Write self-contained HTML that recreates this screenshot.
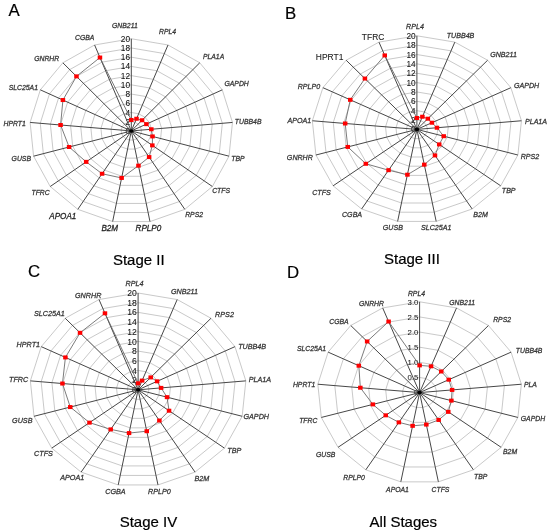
<!DOCTYPE html>
<html><head><meta charset="utf-8"><title>Radar charts</title>
<style>
html,body{margin:0;padding:0;background:#fff;}
body{width:550px;height:532px;overflow:hidden;}
svg{display:block;font-family:"Liberation Sans",Arial,sans-serif;}
</style></head><body>
<svg width="550" height="532" viewBox="0 0 550 532">
<g><polygon points="131.3,121.73 134.97,122.35 138.14,124.14 140.39,126.84 141.42,130.1 141.07,133.47 139.41,136.51 136.65,138.79 133.17,140.01 129.43,140.01 125.95,138.79 123.19,136.51 121.53,133.47 121.18,130.1 122.21,126.84 124.46,124.14 127.63,122.35" fill="none" stroke="#c6c6c6" stroke-width="0.95"/><polygon points="131.3,112.51 138.64,113.76 144.99,117.32 149.49,122.73 151.53,129.25 150.84,136 147.52,142.06 142,146.63 135.03,149.08 127.57,149.08 120.6,146.63 115.08,142.06 111.76,136 111.07,129.25 113.11,122.73 117.61,117.32 123.96,113.76" fill="none" stroke="#c6c6c6" stroke-width="0.95"/><polygon points="131.3,103.29 142.31,105.16 151.83,110.51 158.58,118.62 161.65,128.4 160.62,138.52 155.62,147.62 147.35,154.47 136.9,158.14 125.7,158.14 115.25,154.47 106.98,147.62 101.98,138.52 100.95,128.4 104.02,118.62 110.77,110.51 120.29,105.16" fill="none" stroke="#c6c6c6" stroke-width="0.95"/><polygon points="131.3,94.07 145.98,96.56 158.68,103.7 167.68,114.51 171.77,127.55 170.39,141.04 163.73,153.18 152.69,162.31 138.77,167.2 123.83,167.2 109.91,162.31 98.87,153.18 92.21,141.04 90.83,127.55 94.92,114.51 103.92,103.7 116.62,96.56" fill="none" stroke="#c6c6c6" stroke-width="0.95"/><polygon points="131.3,84.85 149.65,87.96 165.52,96.88 176.77,110.4 181.88,126.7 180.16,143.57 171.84,158.73 158.04,170.15 140.63,176.27 121.97,176.27 104.56,170.15 90.76,158.73 82.44,143.57 80.72,126.7 85.83,110.4 97.08,96.88 112.95,87.96" fill="none" stroke="#c6c6c6" stroke-width="0.95"/><polygon points="131.3,75.63 153.32,79.37 172.37,90.07 185.87,106.29 192,125.85 189.93,146.09 179.95,164.29 163.39,177.98 142.5,185.33 120.1,185.33 99.21,177.98 82.65,164.29 72.67,146.09 70.6,125.85 76.73,106.29 90.23,90.07 109.28,79.37" fill="none" stroke="#c6c6c6" stroke-width="0.95"/><polygon points="131.3,66.41 156.99,70.77 179.21,83.25 194.96,102.18 202.12,125 199.71,148.61 188.05,169.84 168.74,185.82 144.37,194.39 118.23,194.39 93.86,185.82 74.55,169.84 62.89,148.61 60.48,125 67.64,102.18 83.39,83.25 105.61,70.77" fill="none" stroke="#c6c6c6" stroke-width="0.95"/><polygon points="131.3,57.19 160.66,62.17 186.06,76.44 204.06,98.07 212.23,124.14 209.48,151.14 196.16,175.4 174.09,193.66 146.24,203.45 116.36,203.45 88.51,193.66 66.44,175.4 53.12,151.14 50.37,124.14 58.54,98.07 76.54,76.44 101.94,62.17" fill="none" stroke="#c6c6c6" stroke-width="0.95"/><polygon points="131.3,47.97 164.33,53.57 192.9,69.63 213.15,93.96 222.35,123.29 219.25,153.66 204.27,180.96 179.44,201.5 148.1,212.52 114.5,212.52 83.16,201.5 58.33,180.96 43.35,153.66 40.25,123.29 49.45,93.96 69.7,69.63 98.27,53.57" fill="none" stroke="#c6c6c6" stroke-width="0.95"/><polygon points="131.3,38.75 168,44.98 199.75,62.81 222.25,89.85 232.47,122.44 229.02,156.18 212.38,186.51 184.79,209.34 149.97,221.58 112.63,221.58 77.81,209.34 50.22,186.51 33.58,156.18 30.13,122.44 40.35,89.85 62.85,62.81 94.6,44.98" fill="none" stroke="#c6c6c6" stroke-width="0.95"/><text x="130.1" y="133.94" font-size="8.3" text-anchor="end" fill="#111" stroke="#111" stroke-width="0.06">0</text><text x="130.1" y="124.72" font-size="8.3" text-anchor="end" fill="#111" stroke="#111" stroke-width="0.06">2</text><text x="130.1" y="115.5" font-size="8.3" text-anchor="end" fill="#111" stroke="#111" stroke-width="0.06">4</text><text x="130.1" y="106.28" font-size="8.3" text-anchor="end" fill="#111" stroke="#111" stroke-width="0.06">6</text><text x="130.1" y="97.06" font-size="8.3" text-anchor="end" fill="#111" stroke="#111" stroke-width="0.06">8</text><text x="130.1" y="87.84" font-size="8.3" text-anchor="end" fill="#111" stroke="#111" stroke-width="0.06">10</text><text x="130.1" y="78.62" font-size="8.3" text-anchor="end" fill="#111" stroke="#111" stroke-width="0.06">12</text><text x="130.1" y="69.4" font-size="8.3" text-anchor="end" fill="#111" stroke="#111" stroke-width="0.06">14</text><text x="130.1" y="60.18" font-size="8.3" text-anchor="end" fill="#111" stroke="#111" stroke-width="0.06">16</text><text x="130.1" y="50.96" font-size="8.3" text-anchor="end" fill="#111" stroke="#111" stroke-width="0.06">18</text><text x="130.1" y="41.74" font-size="8.3" text-anchor="end" fill="#111" stroke="#111" stroke-width="0.06">20</text><path d="M131.3 130.95L131.3 38.75M131.3 130.95L168 44.98M131.3 130.95L199.75 62.81M131.3 130.95L222.25 89.85M131.3 130.95L232.47 122.44M131.3 130.95L229.02 156.18M131.3 130.95L212.38 186.51M131.3 130.95L184.79 209.34M131.3 130.95L149.97 221.58M131.3 130.95L112.63 221.58M131.3 130.95L77.81 209.34M131.3 130.95L50.22 186.51M131.3 130.95L33.58 156.18M131.3 130.95L30.13 122.44M131.3 130.95L40.35 89.85M131.3 130.95L62.85 62.81M131.3 130.95L94.6 44.98" stroke="#474747" stroke-width="1.0" fill="none"/><polygon points="131.3,119.98 136.51,118.74 142.05,120.25 146.4,124.13 151.33,129.27 152.51,136.43 152.34,145.37 149.14,157.09 138.45,165.66 121.62,177.94 102.1,173.75 86.18,161.87 69.1,147.01 60.58,125 62.91,100.04 76.47,76.37 99.96,57.53" fill="none" stroke="#6c6c6c" stroke-width="0.9"/><rect x="129.05" y="117.98" width="4.5" height="4" fill="#ff0000"/><rect x="134.26" y="116.74" width="4.5" height="4" fill="#ff0000"/><rect x="139.8" y="118.25" width="4.5" height="4" fill="#ff0000"/><rect x="144.15" y="122.13" width="4.5" height="4" fill="#ff0000"/><rect x="149.08" y="127.27" width="4.5" height="4" fill="#ff0000"/><rect x="150.26" y="134.43" width="4.5" height="4" fill="#ff0000"/><rect x="150.09" y="143.37" width="4.5" height="4" fill="#ff0000"/><rect x="146.89" y="155.09" width="4.5" height="4" fill="#ff0000"/><rect x="136.2" y="163.66" width="4.5" height="4" fill="#ff0000"/><rect x="119.37" y="175.94" width="4.5" height="4" fill="#ff0000"/><rect x="99.85" y="171.75" width="4.5" height="4" fill="#ff0000"/><rect x="83.93" y="159.87" width="4.5" height="4" fill="#ff0000"/><rect x="66.85" y="145.01" width="4.5" height="4" fill="#ff0000"/><rect x="58.33" y="123" width="4.5" height="4" fill="#ff0000"/><rect x="60.66" y="98.04" width="4.5" height="4" fill="#ff0000"/><rect x="74.22" y="74.37" width="4.5" height="4" fill="#ff0000"/><rect x="97.71" y="55.53" width="4.5" height="4" fill="#ff0000"/><ellipse cx="131.3" cy="130.95" rx="2.2" ry="1.8" fill="#000"/><text transform="translate(124.9 27.5) scale(1 1.08)" font-size="6.85" text-anchor="middle" fill="#333333" stroke="#333333" stroke-width="0.25" style="font-style:italic;">GNB211</text><text transform="translate(167.6 34) scale(1 1.08)" font-size="6.85" text-anchor="middle" fill="#333333" stroke="#333333" stroke-width="0.25" style="font-style:italic;">RPL4</text><text transform="translate(213.55 58.7) scale(1 1.08)" font-size="6.85" text-anchor="middle" fill="#333333" stroke="#333333" stroke-width="0.25" style="font-style:italic;">PLA1A</text><text transform="translate(236.6 85.6) scale(1 1.08)" font-size="6.85" text-anchor="middle" fill="#333333" stroke="#333333" stroke-width="0.25" style="font-style:italic;">GAPDH</text><text transform="translate(248.15 124.3) scale(1 1.08)" font-size="6.85" text-anchor="middle" fill="#333333" stroke="#333333" stroke-width="0.25" style="font-style:italic;">TUBB4B</text><text transform="translate(237.95 160.5) scale(1 1.08)" font-size="6.85" text-anchor="middle" fill="#333333" stroke="#333333" stroke-width="0.25" style="font-style:italic;">TBP</text><text transform="translate(221.05 193) scale(1 1.08)" font-size="6.85" text-anchor="middle" fill="#333333" stroke="#333333" stroke-width="0.25" style="font-style:italic;">CTFS</text><text transform="translate(194.1 216.8) scale(1 1.08)" font-size="6.85" text-anchor="middle" fill="#333333" stroke="#333333" stroke-width="0.25" style="font-style:italic;">RPS2</text><text transform="translate(148.4 231) scale(1 1.08)" font-size="8.1" text-anchor="middle" fill="#222222" stroke="#222222" stroke-width="0.25" style="font-style:italic;">RPLP0</text><text transform="translate(109.7 231) scale(1 1.08)" font-size="8.1" text-anchor="middle" fill="#222222" stroke="#222222" stroke-width="0.25" style="font-style:italic;">B2M</text><text transform="translate(62.8 218.9) scale(1 1.08)" font-size="8.1" text-anchor="middle" fill="#222222" stroke="#222222" stroke-width="0.25" style="font-style:italic;">APOA1</text><text transform="translate(40.6 195.1) scale(1 1.08)" font-size="6.85" text-anchor="middle" fill="#333333" stroke="#333333" stroke-width="0.25" style="font-style:italic;">TFRC</text><text transform="translate(21.28 160.9) scale(1 1.08)" font-size="6.85" text-anchor="middle" fill="#333333" stroke="#333333" stroke-width="0.25" style="font-style:italic;">GUSB</text><text transform="translate(14.7 125.6) scale(1 1.08)" font-size="6.85" text-anchor="middle" fill="#333333" stroke="#333333" stroke-width="0.25" style="font-style:italic;">HPRT1</text><text transform="translate(23.35 90.3) scale(1 1.08)" font-size="6.85" text-anchor="middle" fill="#333333" stroke="#333333" stroke-width="0.25" style="font-style:italic;">SLC25A1</text><text transform="translate(46.65 61.2) scale(1 1.08)" font-size="6.85" text-anchor="middle" fill="#333333" stroke="#333333" stroke-width="0.25" style="font-style:italic;">GNRHR</text><text transform="translate(84.65 40.1) scale(1 1.08)" font-size="6.85" text-anchor="middle" fill="#333333" stroke="#333333" stroke-width="0.25" style="font-style:italic;">CGBA</text></g>
<g><polygon points="416.9,120.04 420.69,120.67 423.97,122.48 426.3,125.23 427.36,128.54 427,131.96 425.28,135.04 422.43,137.36 418.83,138.6 414.97,138.6 411.37,137.36 408.52,135.04 406.8,131.96 406.44,128.54 407.5,125.23 409.83,122.48 413.11,120.67" fill="none" stroke="#c6c6c6" stroke-width="0.95"/><polygon points="416.9,110.68 424.49,111.94 431.05,115.57 435.7,121.06 437.81,127.67 437.1,134.52 433.66,140.68 427.96,145.32 420.76,147.8 413.04,147.8 405.84,145.32 400.14,140.68 396.7,134.52 395.99,127.67 398.1,121.06 402.75,115.57 409.31,111.94" fill="none" stroke="#c6c6c6" stroke-width="0.95"/><polygon points="416.9,101.32 428.28,103.22 438.12,108.65 445.1,116.88 448.27,126.81 447.2,137.08 442.04,146.32 433.48,153.27 422.69,157 411.11,157 400.32,153.27 391.76,146.32 386.6,137.08 385.53,126.81 388.7,116.88 395.68,108.65 405.52,103.22" fill="none" stroke="#c6c6c6" stroke-width="0.95"/><polygon points="416.9,91.96 432.07,94.49 445.2,101.73 454.5,112.71 458.72,125.95 457.3,139.65 450.42,151.96 439.01,161.23 424.62,166.2 409.18,166.2 394.79,161.23 383.38,151.96 376.5,139.65 375.08,125.95 379.3,112.71 388.6,101.73 401.73,94.49" fill="none" stroke="#c6c6c6" stroke-width="0.95"/><polygon points="416.9,82.6 435.87,85.76 452.27,94.81 463.9,108.54 469.18,125.08 467.4,142.21 458.8,157.6 444.54,169.19 426.55,175.4 407.25,175.4 389.26,169.19 375,157.6 366.4,142.21 364.62,125.08 369.9,108.54 381.53,94.81 397.93,85.76" fill="none" stroke="#c6c6c6" stroke-width="0.95"/><polygon points="416.9,73.24 439.66,77.03 459.34,87.9 473.3,104.37 479.63,124.22 477.5,144.77 467.18,163.24 450.07,177.15 428.48,184.6 405.32,184.6 383.73,177.15 366.62,163.24 356.3,144.77 354.17,124.22 360.5,104.37 374.46,87.9 394.14,77.03" fill="none" stroke="#c6c6c6" stroke-width="0.95"/><polygon points="416.9,63.88 443.45,68.3 466.42,80.98 482.69,100.2 490.09,123.35 487.59,147.33 475.55,168.88 455.59,185.11 430.41,193.8 403.39,193.8 378.21,185.11 358.25,168.88 346.21,147.33 343.71,123.35 351.11,100.2 367.38,80.98 390.35,68.3" fill="none" stroke="#c6c6c6" stroke-width="0.95"/><polygon points="416.9,54.52 447.24,59.58 473.49,74.06 492.09,96.02 500.54,122.49 497.69,149.89 483.93,174.53 461.12,193.06 432.33,203.01 401.47,203.01 372.68,193.06 349.87,174.53 336.11,149.89 333.26,122.49 341.71,96.02 360.31,74.06 386.56,59.58" fill="none" stroke="#c6c6c6" stroke-width="0.95"/><polygon points="416.9,45.16 451.04,50.85 480.56,67.15 501.49,91.85 511,121.63 507.79,152.45 492.31,180.17 466.65,201.02 434.26,212.21 399.54,212.21 367.15,201.02 341.49,180.17 326.01,152.45 322.8,121.63 332.31,91.85 353.24,67.15 382.76,50.85" fill="none" stroke="#c6c6c6" stroke-width="0.95"/><polygon points="416.9,35.8 454.83,42.12 487.64,60.23 510.89,87.68 521.45,120.76 517.89,155.01 500.69,185.81 472.18,208.98 436.19,221.41 397.61,221.41 361.62,208.98 333.11,185.81 315.91,155.01 312.35,120.76 322.91,87.68 346.16,60.23 378.97,42.12" fill="none" stroke="#c6c6c6" stroke-width="0.95"/><text x="415.7" y="132.39" font-size="8.3" text-anchor="end" fill="#111" stroke="#111" stroke-width="0.06">0</text><text x="415.7" y="123.03" font-size="8.3" text-anchor="end" fill="#111" stroke="#111" stroke-width="0.06">2</text><text x="415.7" y="113.67" font-size="8.3" text-anchor="end" fill="#111" stroke="#111" stroke-width="0.06">4</text><text x="415.7" y="104.31" font-size="8.3" text-anchor="end" fill="#111" stroke="#111" stroke-width="0.06">6</text><text x="415.7" y="94.95" font-size="8.3" text-anchor="end" fill="#111" stroke="#111" stroke-width="0.06">8</text><text x="415.7" y="85.59" font-size="8.3" text-anchor="end" fill="#111" stroke="#111" stroke-width="0.06">10</text><text x="415.7" y="76.23" font-size="8.3" text-anchor="end" fill="#111" stroke="#111" stroke-width="0.06">12</text><text x="415.7" y="66.87" font-size="8.3" text-anchor="end" fill="#111" stroke="#111" stroke-width="0.06">14</text><text x="415.7" y="57.51" font-size="8.3" text-anchor="end" fill="#111" stroke="#111" stroke-width="0.06">16</text><text x="415.7" y="48.15" font-size="8.3" text-anchor="end" fill="#111" stroke="#111" stroke-width="0.06">18</text><text x="415.7" y="38.79" font-size="8.3" text-anchor="end" fill="#111" stroke="#111" stroke-width="0.06">20</text><path d="M416.9 129.4L416.9 35.8M416.9 129.4L454.83 42.12M416.9 129.4L487.64 60.23M416.9 129.4L510.89 87.68M416.9 129.4L521.45 120.76M416.9 129.4L517.89 155.01M416.9 129.4L500.69 185.81M416.9 129.4L472.18 208.98M416.9 129.4L436.19 221.41M416.9 129.4L397.61 221.41M416.9 129.4L361.62 208.98M416.9 129.4L333.11 185.81M416.9 129.4L315.91 155.01M416.9 129.4L312.35 120.76M416.9 129.4L322.91 87.68M416.9 129.4L346.16 60.23M416.9 129.4L378.97 42.12" stroke="#474747" stroke-width="1.0" fill="none"/><polygon points="416.9,117.98 422.4,116.74 427.83,118.71 431.94,122.72 436.97,127.74 443.71,136.2 439.23,144.43 434.98,155.42 424.29,164.64 407.4,174.71 388.57,170.18 365.83,163.78 347.77,146.93 345.18,123.48 350.26,99.82 364.91,78.56 384.75,55.43" fill="none" stroke="#6c6c6c" stroke-width="0.9"/><rect x="414.65" y="115.98" width="4.5" height="4" fill="#ff0000"/><rect x="420.15" y="114.74" width="4.5" height="4" fill="#ff0000"/><rect x="425.58" y="116.71" width="4.5" height="4" fill="#ff0000"/><rect x="429.69" y="120.72" width="4.5" height="4" fill="#ff0000"/><rect x="434.72" y="125.74" width="4.5" height="4" fill="#ff0000"/><rect x="441.46" y="134.2" width="4.5" height="4" fill="#ff0000"/><rect x="436.98" y="142.43" width="4.5" height="4" fill="#ff0000"/><rect x="432.73" y="153.42" width="4.5" height="4" fill="#ff0000"/><rect x="422.04" y="162.64" width="4.5" height="4" fill="#ff0000"/><rect x="405.15" y="172.71" width="4.5" height="4" fill="#ff0000"/><rect x="386.32" y="168.18" width="4.5" height="4" fill="#ff0000"/><rect x="363.58" y="161.78" width="4.5" height="4" fill="#ff0000"/><rect x="345.52" y="144.93" width="4.5" height="4" fill="#ff0000"/><rect x="342.93" y="121.48" width="4.5" height="4" fill="#ff0000"/><rect x="348.01" y="97.82" width="4.5" height="4" fill="#ff0000"/><rect x="362.66" y="76.56" width="4.5" height="4" fill="#ff0000"/><rect x="382.5" y="53.43" width="4.5" height="4" fill="#ff0000"/><ellipse cx="416.9" cy="129.4" rx="2.2" ry="1.8" fill="#000"/><text transform="translate(414.95 28.6) scale(1 1.08)" font-size="7.1" text-anchor="middle" fill="#333333" stroke="#333333" stroke-width="0.25" style="font-style:italic;">RPL4</text><text transform="translate(460.55 37.9) scale(1 1.08)" font-size="7.1" text-anchor="middle" fill="#333333" stroke="#333333" stroke-width="0.25" style="font-style:italic;">TUBB4B</text><text transform="translate(503.55 56.65) scale(1 1.08)" font-size="7.1" text-anchor="middle" fill="#333333" stroke="#333333" stroke-width="0.25" style="font-style:italic;">GNB211</text><text transform="translate(526.6 88.3) scale(1 1.08)" font-size="7.1" text-anchor="middle" fill="#333333" stroke="#333333" stroke-width="0.25" style="font-style:italic;">GAPDH</text><text transform="translate(536 123.6) scale(1 1.08)" font-size="7.1" text-anchor="middle" fill="#333333" stroke="#333333" stroke-width="0.25" style="font-style:italic;">PLA1A</text><text transform="translate(529.9 159) scale(1 1.08)" font-size="7.1" text-anchor="middle" fill="#333333" stroke="#333333" stroke-width="0.25" style="font-style:italic;">RPS2</text><text transform="translate(508.7 193) scale(1 1.08)" font-size="7.1" text-anchor="middle" fill="#333333" stroke="#333333" stroke-width="0.25" style="font-style:italic;">TBP</text><text transform="translate(480.5 216.6) scale(1 1.08)" font-size="7.1" text-anchor="middle" fill="#333333" stroke="#333333" stroke-width="0.25" style="font-style:italic;">B2M</text><text transform="translate(436.25 230.4) scale(1 1.08)" font-size="7.1" text-anchor="middle" fill="#333333" stroke="#333333" stroke-width="0.25" style="font-style:italic;">SLC25A1</text><text transform="translate(392.85 229.5) scale(1 1.08)" font-size="7.1" text-anchor="middle" fill="#333333" stroke="#333333" stroke-width="0.25" style="font-style:italic;">GUSB</text><text transform="translate(352.05 217.4) scale(1 1.08)" font-size="7.1" text-anchor="middle" fill="#333333" stroke="#333333" stroke-width="0.25" style="font-style:italic;">CGBA</text><text transform="translate(321.5 195) scale(1 1.08)" font-size="7.1" text-anchor="middle" fill="#333333" stroke="#333333" stroke-width="0.25" style="font-style:italic;">CTFS</text><text transform="translate(299.85 160.3) scale(1 1.08)" font-size="7.1" text-anchor="middle" fill="#333333" stroke="#333333" stroke-width="0.25" style="font-style:italic;">GNRHR</text><text transform="translate(299.35 122.6) scale(1 1.08)" font-size="7.1" text-anchor="middle" fill="#333333" stroke="#333333" stroke-width="0.25" style="font-style:italic;">APOA1</text><text transform="translate(308.9 88.5) scale(1 1.08)" font-size="7.1" text-anchor="middle" fill="#333333" stroke="#333333" stroke-width="0.25" style="font-style:italic;">RPLP0</text><text transform="translate(329.6 60) scale(1 1.08)" font-size="8.45" text-anchor="middle" fill="#222222" stroke="#222222" stroke-width="0.1" style="">HPRT1</text><text transform="translate(373.1 40) scale(1 1.08)" font-size="8.45" text-anchor="middle" fill="#222222" stroke="#222222" stroke-width="0.1" style="">TFRC</text></g>
<g><polygon points="138.1,380.12 142.01,380.77 145.39,382.65 147.79,385.49 148.87,388.91 148.51,392.45 146.73,395.63 143.8,398.03 140.09,399.32 136.11,399.32 132.4,398.03 129.47,395.63 127.69,392.45 127.33,388.91 128.41,385.49 130.81,382.65 134.19,380.77" fill="none" stroke="#c6c6c6" stroke-width="0.95"/><polygon points="138.1,370.44 145.92,371.75 152.68,375.49 157.47,381.17 159.65,388.01 158.91,395.1 155.37,401.47 149.49,406.26 142.08,408.83 134.12,408.83 126.71,406.26 120.83,401.47 117.29,395.1 116.55,388.01 118.73,381.17 123.52,375.49 130.28,371.75" fill="none" stroke="#c6c6c6" stroke-width="0.95"/><polygon points="138.1,360.76 149.83,362.72 159.97,368.34 167.16,376.86 170.42,387.12 169.32,397.75 164,407.3 155.19,414.49 144.06,418.35 132.14,418.35 121.01,414.49 112.2,407.3 106.88,397.75 105.78,387.12 109.04,376.86 116.23,368.34 126.37,362.72" fill="none" stroke="#c6c6c6" stroke-width="0.95"/><polygon points="138.1,351.08 153.73,353.69 167.26,361.19 176.84,372.54 181.2,386.23 179.73,400.4 172.64,413.13 160.88,422.72 146.05,427.86 130.15,427.86 115.32,422.72 103.56,413.13 96.47,400.4 95,386.23 99.36,372.54 108.94,361.19 122.47,353.69" fill="none" stroke="#c6c6c6" stroke-width="0.95"/><polygon points="138.1,341.4 157.64,344.67 174.55,354.03 186.53,368.23 191.97,385.33 190.13,403.05 181.27,418.97 166.58,430.95 148.04,437.38 128.16,437.38 109.62,430.95 94.93,418.97 86.07,403.05 84.23,385.33 89.67,368.23 101.65,354.03 118.56,344.67" fill="none" stroke="#c6c6c6" stroke-width="0.95"/><polygon points="138.1,331.72 161.55,335.64 181.84,346.88 196.21,363.91 202.74,384.44 200.54,405.69 189.91,424.8 172.28,439.18 150.03,446.89 126.17,446.89 103.92,439.18 86.29,424.8 75.66,405.69 73.46,384.44 79.99,363.91 94.36,346.88 114.65,335.64" fill="none" stroke="#c6c6c6" stroke-width="0.95"/><polygon points="138.1,322.04 165.46,326.62 189.13,339.72 205.9,359.6 213.52,383.55 210.95,408.34 198.54,430.63 177.97,447.41 152.02,456.41 124.18,456.41 98.23,447.41 77.66,430.63 65.25,408.34 62.68,383.55 70.3,359.6 87.07,339.72 110.74,326.62" fill="none" stroke="#c6c6c6" stroke-width="0.95"/><polygon points="138.1,312.36 169.37,317.59 196.42,332.57 215.59,355.28 224.29,382.65 221.36,410.99 207.18,436.47 183.67,455.64 154.01,465.92 122.19,465.92 92.53,455.64 69.02,436.47 54.84,410.99 51.91,382.65 60.61,355.28 79.78,332.57 106.83,317.59" fill="none" stroke="#c6c6c6" stroke-width="0.95"/><polygon points="138.1,302.68 173.28,308.56 203.7,325.42 225.27,350.97 235.06,381.76 231.76,413.64 215.81,442.3 189.36,463.87 155.99,475.44 120.21,475.44 86.84,463.87 60.39,442.3 44.44,413.64 41.14,381.76 50.93,350.97 72.5,325.42 102.92,308.56" fill="none" stroke="#c6c6c6" stroke-width="0.95"/><polygon points="138.1,293 177.19,299.54 210.99,318.26 234.96,346.65 245.84,380.87 242.17,416.29 224.45,448.14 195.06,472.1 157.98,484.95 118.22,484.95 81.14,472.1 51.75,448.14 34.03,416.29 30.36,380.87 41.24,346.65 65.21,318.26 99.01,299.54" fill="none" stroke="#c6c6c6" stroke-width="0.95"/><text x="136.9" y="392.9" font-size="8.6" text-anchor="end" fill="#111" stroke="#111" stroke-width="0.06">0</text><text x="136.9" y="383.22" font-size="8.6" text-anchor="end" fill="#111" stroke="#111" stroke-width="0.06">2</text><text x="136.9" y="373.54" font-size="8.6" text-anchor="end" fill="#111" stroke="#111" stroke-width="0.06">4</text><text x="136.9" y="363.86" font-size="8.6" text-anchor="end" fill="#111" stroke="#111" stroke-width="0.06">6</text><text x="136.9" y="354.18" font-size="8.6" text-anchor="end" fill="#111" stroke="#111" stroke-width="0.06">8</text><text x="136.9" y="344.5" font-size="8.6" text-anchor="end" fill="#111" stroke="#111" stroke-width="0.06">10</text><text x="136.9" y="334.82" font-size="8.6" text-anchor="end" fill="#111" stroke="#111" stroke-width="0.06">12</text><text x="136.9" y="325.14" font-size="8.6" text-anchor="end" fill="#111" stroke="#111" stroke-width="0.06">14</text><text x="136.9" y="315.46" font-size="8.6" text-anchor="end" fill="#111" stroke="#111" stroke-width="0.06">16</text><text x="136.9" y="305.78" font-size="8.6" text-anchor="end" fill="#111" stroke="#111" stroke-width="0.06">18</text><text x="136.9" y="296.1" font-size="8.6" text-anchor="end" fill="#111" stroke="#111" stroke-width="0.06">20</text><path d="M138.1 389.8L138.1 293M138.1 389.8L177.19 299.54M138.1 389.8L210.99 318.26M138.1 389.8L234.96 346.65M138.1 389.8L245.84 380.87M138.1 389.8L242.17 416.29M138.1 389.8L224.45 448.14M138.1 389.8L195.06 472.1M138.1 389.8L157.98 484.95M138.1 389.8L118.22 484.95M138.1 389.8L81.14 472.1M138.1 389.8L51.75 448.14M138.1 389.8L34.03 416.29M138.1 389.8L30.36 380.87M138.1 389.8L41.24 346.65M138.1 389.8L65.21 318.26M138.1 389.8L99.01 299.54" stroke="#474747" stroke-width="1.0" fill="none"/><polygon points="138.1,383.31 142.09,380.59 150.71,377.42 157.13,381.32 161.1,387.89 167.03,397.16 169.05,410.71 159.37,420.54 146.75,431.19 129.05,433.09 110.7,429.39 89.49,422.64 70.25,407.07 62.47,383.53 65.41,357.42 80.04,332.82 104.97,313.3" fill="none" stroke="#6c6c6c" stroke-width="0.9"/><rect x="135.85" y="381.31" width="4.5" height="4" fill="#ff0000"/><rect x="139.84" y="378.59" width="4.5" height="4" fill="#ff0000"/><rect x="148.46" y="375.42" width="4.5" height="4" fill="#ff0000"/><rect x="154.88" y="379.32" width="4.5" height="4" fill="#ff0000"/><rect x="158.85" y="385.89" width="4.5" height="4" fill="#ff0000"/><rect x="164.78" y="395.16" width="4.5" height="4" fill="#ff0000"/><rect x="166.8" y="408.71" width="4.5" height="4" fill="#ff0000"/><rect x="157.12" y="418.54" width="4.5" height="4" fill="#ff0000"/><rect x="144.5" y="429.19" width="4.5" height="4" fill="#ff0000"/><rect x="126.8" y="431.09" width="4.5" height="4" fill="#ff0000"/><rect x="108.45" y="427.39" width="4.5" height="4" fill="#ff0000"/><rect x="87.24" y="420.64" width="4.5" height="4" fill="#ff0000"/><rect x="68" y="405.07" width="4.5" height="4" fill="#ff0000"/><rect x="60.22" y="381.53" width="4.5" height="4" fill="#ff0000"/><rect x="63.16" y="355.42" width="4.5" height="4" fill="#ff0000"/><rect x="77.79" y="330.82" width="4.5" height="4" fill="#ff0000"/><rect x="102.72" y="311.3" width="4.5" height="4" fill="#ff0000"/><ellipse cx="138.1" cy="389.8" rx="2.2" ry="1.8" fill="#000"/><text transform="translate(134.45 285.8) scale(1 1.08)" font-size="7.2" text-anchor="middle" fill="#333333" stroke="#333333" stroke-width="0.25" style="font-style:italic;">RPL4</text><text transform="translate(184.5 294.2) scale(1 1.08)" font-size="7.2" text-anchor="middle" fill="#333333" stroke="#333333" stroke-width="0.25" style="font-style:italic;">GNB211</text><text transform="translate(224.5 316.6) scale(1 1.08)" font-size="7.2" text-anchor="middle" fill="#333333" stroke="#333333" stroke-width="0.25" style="font-style:italic;">RPS2</text><text transform="translate(252.15 348.5) scale(1 1.08)" font-size="7.2" text-anchor="middle" fill="#333333" stroke="#333333" stroke-width="0.25" style="font-style:italic;">TUBB4B</text><text transform="translate(259.9 382.4) scale(1 1.08)" font-size="7.2" text-anchor="middle" fill="#333333" stroke="#333333" stroke-width="0.25" style="font-style:italic;">PLA1A</text><text transform="translate(256.25 419) scale(1 1.08)" font-size="7.2" text-anchor="middle" fill="#333333" stroke="#333333" stroke-width="0.25" style="font-style:italic;">GAPDH</text><text transform="translate(234.25 452.9) scale(1 1.08)" font-size="7.2" text-anchor="middle" fill="#333333" stroke="#333333" stroke-width="0.25" style="font-style:italic;">TBP</text><text transform="translate(201.8 480.9) scale(1 1.08)" font-size="7.2" text-anchor="middle" fill="#333333" stroke="#333333" stroke-width="0.25" style="font-style:italic;">B2M</text><text transform="translate(159.45 494.1) scale(1 1.08)" font-size="7.2" text-anchor="middle" fill="#333333" stroke="#333333" stroke-width="0.25" style="font-style:italic;">RPLP0</text><text transform="translate(115.4 494.1) scale(1 1.08)" font-size="7.2" text-anchor="middle" fill="#333333" stroke="#333333" stroke-width="0.25" style="font-style:italic;">CGBA</text><text transform="translate(72.25 479.7) scale(1 1.08)" font-size="7.2" text-anchor="middle" fill="#333333" stroke="#333333" stroke-width="0.25" style="font-style:italic;">APOA1</text><text transform="translate(43.45 455.5) scale(1 1.08)" font-size="7.2" text-anchor="middle" fill="#333333" stroke="#333333" stroke-width="0.25" style="font-style:italic;">CTFS</text><text transform="translate(22.25 422.6) scale(1 1.08)" font-size="7.2" text-anchor="middle" fill="#333333" stroke="#333333" stroke-width="0.25" style="font-style:italic;">GUSB</text><text transform="translate(18.65 382.4) scale(1 1.08)" font-size="7.2" text-anchor="middle" fill="#333333" stroke="#333333" stroke-width="0.25" style="font-style:italic;">TFRC</text><text transform="translate(28.35 346.5) scale(1 1.08)" font-size="7.2" text-anchor="middle" fill="#333333" stroke="#333333" stroke-width="0.25" style="font-style:italic;">HPRT1</text><text transform="translate(49.35 315.6) scale(1 1.08)" font-size="7.2" text-anchor="middle" fill="#333333" stroke="#333333" stroke-width="0.25" style="font-style:italic;">SLC25A1</text><text transform="translate(88.15 298) scale(1 1.08)" font-size="7.2" text-anchor="middle" fill="#333333" stroke="#333333" stroke-width="0.25" style="font-style:italic;">GNRHR</text></g>
<g><polygon points="419.6,377.47 425.75,378.49 431.08,381.42 434.85,385.85 436.56,391.2 435.98,396.74 433.19,401.72 428.57,405.47 422.73,407.48 416.47,407.48 410.63,405.47 406.01,401.72 403.22,396.74 402.64,391.2 404.35,385.85 408.12,381.42 413.45,378.49" fill="none" stroke="#c6c6c6" stroke-width="0.95"/><polygon points="419.6,362.33 431.91,364.38 442.55,370.23 450.1,379.11 453.52,389.81 452.37,400.88 446.79,410.84 437.53,418.33 425.86,422.35 413.34,422.35 401.67,418.33 392.41,410.84 386.83,400.88 385.68,389.81 389.1,379.11 396.65,370.23 407.29,364.38" fill="none" stroke="#c6c6c6" stroke-width="0.95"/><polygon points="419.6,347.2 438.06,350.27 454.03,359.05 465.34,372.36 470.48,388.41 468.75,405.02 460.38,419.96 446.5,431.2 428.99,437.23 410.21,437.23 392.7,431.2 378.82,419.96 370.45,405.02 368.72,388.41 373.86,372.36 385.17,359.05 401.14,350.27" fill="none" stroke="#c6c6c6" stroke-width="0.95"/><polygon points="419.6,332.07 444.21,336.15 465.5,347.87 480.59,365.62 487.44,387.01 485.13,409.17 473.97,429.08 455.47,444.07 432.12,452.1 407.08,452.1 383.73,444.07 365.23,429.08 354.07,409.17 351.76,387.01 358.61,365.62 373.7,347.87 394.99,336.15" fill="none" stroke="#c6c6c6" stroke-width="0.95"/><polygon points="419.6,316.93 450.37,322.04 476.98,336.68 495.84,358.87 504.4,385.62 501.52,413.31 487.56,438.2 464.43,456.93 435.25,466.98 403.95,466.98 374.77,456.93 351.64,438.2 337.68,413.31 334.8,385.62 343.36,358.87 362.22,336.68 388.83,322.04" fill="none" stroke="#c6c6c6" stroke-width="0.95"/><polygon points="419.6,301.8 456.52,307.93 488.45,325.5 511.09,352.13 521.36,384.22 517.9,417.45 501.16,447.32 473.4,469.8 438.38,481.85 400.82,481.85 365.8,469.8 338.04,447.32 321.3,417.45 317.84,384.22 328.11,352.13 350.75,325.5 382.68,307.93" fill="none" stroke="#c6c6c6" stroke-width="0.95"/><text x="418.4" y="395.41" font-size="7.8" text-anchor="end" fill="#222" stroke="#222" stroke-width="0.05">0</text><text x="418.4" y="380.27" font-size="7.8" text-anchor="end" fill="#222" stroke="#222" stroke-width="0.05">0.5</text><text x="418.4" y="365.14" font-size="7.8" text-anchor="end" fill="#222" stroke="#222" stroke-width="0.05">1.0</text><text x="418.4" y="350.01" font-size="7.8" text-anchor="end" fill="#222" stroke="#222" stroke-width="0.05">1.5</text><text x="418.4" y="334.87" font-size="7.8" text-anchor="end" fill="#222" stroke="#222" stroke-width="0.05">2.0</text><text x="418.4" y="319.74" font-size="7.8" text-anchor="end" fill="#222" stroke="#222" stroke-width="0.05">2.5</text><text x="418.4" y="304.61" font-size="7.8" text-anchor="end" fill="#222" stroke="#222" stroke-width="0.05">3.0</text><path d="M419.6 392.6L419.6 301.8M419.6 392.6L456.52 307.93M419.6 392.6L488.45 325.5M419.6 392.6L511.09 352.13M419.6 392.6L521.36 384.22M419.6 392.6L517.9 417.45M419.6 392.6L501.16 447.32M419.6 392.6L473.4 469.8M419.6 392.6L438.38 481.85M419.6 392.6L400.82 481.85M419.6 392.6L365.8 469.8M419.6 392.6L338.04 447.32M419.6 392.6L321.3 417.45M419.6 392.6L317.84 384.22M419.6 392.6L328.11 352.13M419.6 392.6L350.75 325.5M419.6 392.6L382.68 307.93" stroke="#474747" stroke-width="1.0" fill="none"/><polygon points="419.6,365.39 431.07,366.3 441.27,371.49 448.75,379.7 452.1,389.92 451.38,400.63 448.28,411.84 438.66,419.95 426.33,424.58 412.61,425.83 398.87,422.35 385.73,415.33 372.88,404.41 360.34,387.72 358.82,365.71 367.14,341.47 388.61,321.53" fill="none" stroke="#6c6c6c" stroke-width="0.9"/><rect x="417.35" y="363.39" width="4.5" height="4" fill="#ff0000"/><rect x="428.82" y="364.3" width="4.5" height="4" fill="#ff0000"/><rect x="439.02" y="369.49" width="4.5" height="4" fill="#ff0000"/><rect x="446.5" y="377.7" width="4.5" height="4" fill="#ff0000"/><rect x="449.85" y="387.92" width="4.5" height="4" fill="#ff0000"/><rect x="449.13" y="398.63" width="4.5" height="4" fill="#ff0000"/><rect x="446.03" y="409.84" width="4.5" height="4" fill="#ff0000"/><rect x="436.41" y="417.95" width="4.5" height="4" fill="#ff0000"/><rect x="424.08" y="422.58" width="4.5" height="4" fill="#ff0000"/><rect x="410.36" y="423.83" width="4.5" height="4" fill="#ff0000"/><rect x="396.62" y="420.35" width="4.5" height="4" fill="#ff0000"/><rect x="383.48" y="413.33" width="4.5" height="4" fill="#ff0000"/><rect x="370.63" y="402.41" width="4.5" height="4" fill="#ff0000"/><rect x="358.09" y="385.72" width="4.5" height="4" fill="#ff0000"/><rect x="356.57" y="363.71" width="4.5" height="4" fill="#ff0000"/><rect x="364.89" y="339.47" width="4.5" height="4" fill="#ff0000"/><rect x="386.36" y="319.53" width="4.5" height="4" fill="#ff0000"/><ellipse cx="419.6" cy="392.6" rx="2.2" ry="1.8" fill="#000"/><text transform="translate(416.45 296.4) scale(1 1.08)" font-size="6.85" text-anchor="middle" fill="#333333" stroke="#333333" stroke-width="0.25" style="font-style:italic;">RPL4</text><text transform="translate(462.15 304.8) scale(1 1.08)" font-size="6.85" text-anchor="middle" fill="#333333" stroke="#333333" stroke-width="0.25" style="font-style:italic;">GNB211</text><text transform="translate(502.1 322) scale(1 1.08)" font-size="6.85" text-anchor="middle" fill="#333333" stroke="#333333" stroke-width="0.25" style="font-style:italic;">RPS2</text><text transform="translate(529.1 353.4) scale(1 1.08)" font-size="6.85" text-anchor="middle" fill="#333333" stroke="#333333" stroke-width="0.25" style="font-style:italic;">TUBB4B</text><text transform="translate(530.4 386.7) scale(1 1.08)" font-size="6.85" text-anchor="middle" fill="#333333" stroke="#333333" stroke-width="0.25" style="font-style:italic;">PLA</text><text transform="translate(532.95 421.3) scale(1 1.08)" font-size="6.85" text-anchor="middle" fill="#333333" stroke="#333333" stroke-width="0.25" style="font-style:italic;">GAPDH</text><text transform="translate(510.05 453.6) scale(1 1.08)" font-size="6.85" text-anchor="middle" fill="#333333" stroke="#333333" stroke-width="0.25" style="font-style:italic;">B2M</text><text transform="translate(480.7 479.1) scale(1 1.08)" font-size="6.85" text-anchor="middle" fill="#333333" stroke="#333333" stroke-width="0.25" style="font-style:italic;">TBP</text><text transform="translate(440.45 491.9) scale(1 1.08)" font-size="6.85" text-anchor="middle" fill="#333333" stroke="#333333" stroke-width="0.25" style="font-style:italic;">CTFS</text><text transform="translate(397.5 491.9) scale(1 1.08)" font-size="6.85" text-anchor="middle" fill="#333333" stroke="#333333" stroke-width="0.25" style="font-style:italic;">APOA1</text><text transform="translate(354.1 479.7) scale(1 1.08)" font-size="6.85" text-anchor="middle" fill="#333333" stroke="#333333" stroke-width="0.25" style="font-style:italic;">RPLP0</text><text transform="translate(325.68 456.9) scale(1 1.08)" font-size="6.85" text-anchor="middle" fill="#333333" stroke="#333333" stroke-width="0.25" style="font-style:italic;">GUSB</text><text transform="translate(308.3 423) scale(1 1.08)" font-size="6.85" text-anchor="middle" fill="#333333" stroke="#333333" stroke-width="0.25" style="font-style:italic;">TFRC</text><text transform="translate(304.05 387.1) scale(1 1.08)" font-size="6.85" text-anchor="middle" fill="#333333" stroke="#333333" stroke-width="0.25" style="font-style:italic;">HPRT1</text><text transform="translate(311.55 351) scale(1 1.08)" font-size="6.85" text-anchor="middle" fill="#333333" stroke="#333333" stroke-width="0.25" style="font-style:italic;">SLC25A1</text><text transform="translate(338.95 324.1) scale(1 1.08)" font-size="6.85" text-anchor="middle" fill="#333333" stroke="#333333" stroke-width="0.25" style="font-style:italic;">CGBA</text><text transform="translate(371.45 305.9) scale(1 1.08)" font-size="6.85" text-anchor="middle" fill="#333333" stroke="#333333" stroke-width="0.25" style="font-style:italic;">GNRHR</text></g>
<text x="14" y="16.4" font-size="16.8" text-anchor="middle" fill="#000" stroke="#000" stroke-width="0.2">A</text>
<text x="290.6" y="18.7" font-size="16.8" text-anchor="middle" fill="#000" stroke="#000" stroke-width="0.2">B</text>
<text x="34" y="276.9" font-size="16.8" text-anchor="middle" fill="#000" stroke="#000" stroke-width="0.2">C</text>
<text x="293" y="277.6" font-size="16.8" text-anchor="middle" fill="#000" stroke="#000" stroke-width="0.2">D</text>
<text x="138.8" y="264.6" font-size="15" text-anchor="middle" fill="#000" stroke="#000" stroke-width="0.2">Stage II</text>
<text x="411.9" y="263.5" font-size="15" text-anchor="middle" fill="#000" stroke="#000" stroke-width="0.2">Stage III</text>
<text x="148.45" y="527.1" font-size="15" text-anchor="middle" fill="#000" stroke="#000" stroke-width="0.2">Stage IV</text>
<text x="403.35" y="527.3" font-size="15" text-anchor="middle" fill="#000" stroke="#000" stroke-width="0.2">All Stages</text>
</svg>
</body></html>
